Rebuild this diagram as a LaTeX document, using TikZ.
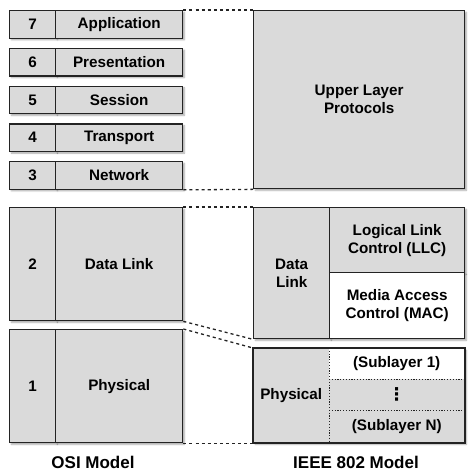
\documentclass[tikz,border=0pt]{standalone}
\usepackage{fontspec}
\setmainfont{Liberation Sans}
\newfontfamily\symfont{DejaVu Sans}
\usepackage{tikz}
\usetikzlibrary{shadows.blur}

\definecolor{layergray}{RGB}{218,218,218}
\definecolor{edgegray}{RGB}{35,35,35}

\begin{document}
\begin{tikzpicture}[
  x=0.03cm, y=-0.03cm,
  font=\fontsize{13}{15.5}\selectfont\bfseries,
  wd/.style={minimum width=#1*0.03cm},
  ht/.style={minimum height=#1*0.03cm},
  box/.style={draw=edgegray, line width=1.15pt, fill=layergray, inner sep=0pt,
    anchor=north west, align=center,
    blur shadow={shadow xshift=1.4pt, shadow yshift=-1.4pt,
      shadow blur radius=1.4pt, shadow opacity=35}},
  pane/.style={inner sep=0pt, anchor=north west, align=center},
  frame/.style={draw=edgegray, line width=1.15pt},
  link/.style={draw=edgegray, line width=1.1pt, dash pattern=on 2.6pt off 2.6pt},
  subline/.style={draw=edgegray, line width=0.6pt, dash pattern=on 1pt off 1.4pt},
  caption/.style={font=\fontsize{14.5}{17}\selectfont\bfseries},
]
  \useasboundingbox (0,0) rectangle (474,474);

  % OSI model, layers 7 to 3
  \foreach \k/\num/\name in {0/7/Application, 1/6/Presentation, 2/5/Session,
                             3/4/Transport, 4/3/Network} {
    \node[box, wd=46, ht=27.5] (n\num) at (9, 10+37.75*\k) {\num};
    \node[box, wd=127, ht=27.5] (l\num) at (55, 10+37.75*\k) {\name};
  }

  % OSI model, layers 2 and 1
  \node[box, wd=46, ht=113] (n2) at (9,207) {2};
  \node[box, wd=127, ht=113] (l2) at (55,207) {Data Link};
  \node[box, wd=46, ht=113] (n1) at (9,329) {1};
  \node[box, wd=127, ht=113] (l1) at (55,329) {Physical};

  % IEEE 802 model
  \node[box, wd=211, ht=178] (upper) at (253,10) {Upper Layer\\Protocols};

  \node[box, wd=76, ht=131] (dlk) at (253,207) {Data\\Link};
  \node[box, wd=135, ht=65] (llc) at (329,207) {Logical Link\\Control (LLC)};
  \node[box, wd=135, ht=66, fill=white] (mac) at (329,272) {Media Access\\Control (MAC)};

  \node[box, wd=211, ht=94] (phy) at (253,348) {};
  \node[pane, wd=76, ht=94] (phl) at (253,348) {Physical};
  \node[pane, wd=135, ht=31, fill=white] (s1) at (329,348) {(Sublayer 1)};
  \node[pane, wd=135, ht=31] (sd) at (329,379) {};
  \node[inner sep=0pt] (dots) at (sd.center) {\symfont\bfseries\fontsize{15}{15}\selectfont ⋮};
  \node[pane, wd=135, ht=32] (sn) at (329,410) {(Sublayer N)};
  \draw[subline] (s1.south west) -- (s1.south east);
  \draw[subline] (sd.south west) -- (sd.south east);
  \draw[subline] (s1.north west) -- (sn.south west);
  \draw[frame] (phy.north west) rectangle (phy.south east);

  % mapping between the two models
  \foreach \a/\b in {l7.north east/upper.north west, l3.south east/upper.south west,
                     l2.north east/dlk.north west, l2.south east/dlk.south west,
                     l1.north east/phy.north west, l1.south east/phy.south west}
    \draw[link] (\a) -- (\b);

  \node[caption] (osi) at (93,462) {OSI Model};
  \node[caption] (ieee) at (356,462) {IEEE 802 Model};
\end{tikzpicture}
\end{document}
